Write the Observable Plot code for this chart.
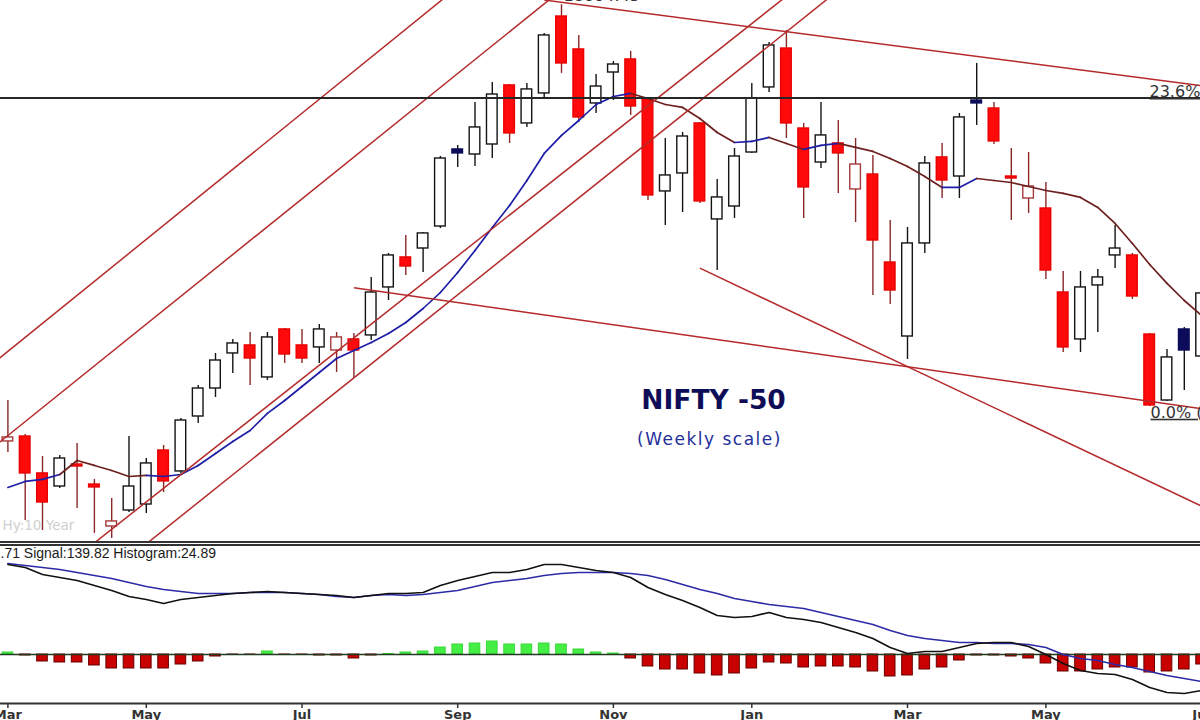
<!DOCTYPE html>
<html><head><meta charset="utf-8">
<script src="https://cdn.jsdelivr.net/npm/d3@7"></script>
<script src="https://cdn.jsdelivr.net/npm/@observablehq/plot@0.6"></script>
<style>
html,body{margin:0;padding:0;background:#fff;}
#chart{width:1200px;height:720px;overflow:hidden;position:relative;background:#fff;}
#chart svg{display:block;}
.sep{height:1px;border-top:2px solid #333;border-bottom:2px solid #333;}
</style></head><body><div id="chart"></div>
<script>
// ---- Data (weekly bars, dated by week start Sunday) ----
const weeks = ["2021-03-07","2021-03-14","2021-03-21","2021-03-28",
"2021-04-04","2021-04-11","2021-04-18","2021-04-25",
"2021-05-02","2021-05-09","2021-05-16","2021-05-23","2021-05-30",
"2021-06-06","2021-06-13","2021-06-20","2021-06-27",
"2021-07-04","2021-07-11","2021-07-18","2021-07-25",
"2021-08-01","2021-08-08","2021-08-15","2021-08-22","2021-08-29",
"2021-09-05","2021-09-12","2021-09-19","2021-09-26",
"2021-10-03","2021-10-10","2021-10-17","2021-10-24","2021-10-31",
"2021-11-07","2021-11-14","2021-11-21","2021-11-28",
"2021-12-05","2021-12-12","2021-12-19","2021-12-26",
"2022-01-02","2022-01-09","2022-01-16","2022-01-23","2022-01-30",
"2022-02-06","2022-02-13","2022-02-20","2022-02-27",
"2022-03-06","2022-03-13","2022-03-20","2022-03-27",
"2022-04-03","2022-04-10","2022-04-17","2022-04-24",
"2022-05-01","2022-05-08","2022-05-15","2022-05-22","2022-05-29",
"2022-06-05","2022-06-12","2022-06-19","2022-06-26",
"2022-07-03"];

const open = [14892,14934,14620,14509,14696,14526,14169,14305,14356,14815,
14637,15104,15342,15640,15708,15436,15844,15708,15691,15665,
15759,15793,16201,16456,16532,16719,17374,17331,17416,17918,
17595,17850,18504,18224,17765,18028,18139,17799,17017,17170,
17595,16779,16889,17348,17901,18232,17552,17263,17425,17034,
17161,16413,15784,16575,17306,17144,17790,17722,17144,16957,
16872,16158,15759,16218,16473,16473,15801,15240,15844,15614];

const high = [15240,14951,14764,14773,14875,14569,14407,14934,14747,14858,
15087,15368,15640,15759,15818,15818,15852,15844,15886,15818,
15810,16286,16490,16643,16668,17314,17408,17773,17943,17926,
17935,18360,18604.45,18343,18011,18122,18207,17816,17467,17518,
17603,17119,17382,17935,18283,18385,17595,17773,17620,17467,
17323,16770,16711,17314,17425,17680,18105,17773,17382,17348,
17093,16337,16337,16354,16728,16490,15810,15674,15861,16260];

const low = [14798,14220,14135,14492,14322,14110,14067,14288,14280,14458,
14620,15045,15266,15470,15368,15410,15555,15555,15555,15478,
15436,15750,16090,16303,16328,16702,17221,17229,17297,17425,
17561,17816,18020,17603,17680,17790,17663,16940,16728,16838,
16915,16345,16787,17340,17858,17467,16787,17212,17000,16753,
16133,16056,15589,16490,16957,16957,17578,17416,16770,16830,
16269,15648,15648,15818,16362,16099,15189,15232,15325,15580];

const close = [14926,14620,14373,14747,14679,14501,14212,14509,14705,14552,
15070,15342,15580,15725,15597,15776,15631,15597,15844,15776,
15665,16158,16473,16379,16660,17297,17340,17561,17841,17510,
17884,18343,18105,17646,17909,18096,17739,16983,17153,17484,
16932,16966,17314,17807,18258,17595,17051,17493,17340,17246,
16600,16175,16575,17255,17110,17646,17765,17442,17127,17059,
16345,15691,16201,16286,16532,16124,15198,15606,15665,16150];

// moving average and its colour per segment (u = blue, d = brown)
const ma = [14501,14552,14569,14611,14730,14688,14645,14594,14603,14594,
14611,14688,14790,14892,14985,15130,15240,15359,15478,15597,
15665,15733,15810,15903,16022,16158,16328,16515,16711,16898,
17110,17340,17493,17620,17756,17824,17850,17807,17756,17731,
17637,17518,17433,17442,17476,17425,17374,17408,17425,17391,
17357,17297,17229,17144,17051,17051,17127,17110,17093,17059,
17025,17000,16966,16881,16745,16575,16396,16235,16090,15963];
const maTrend = ("uuu" + "ddddd" + "uuuuuuuuuuuuuuuuuuuuuuuuuuuu" + "dddddd" +
  "uu" + "dd" + "uu" + "dddddd" + "uu" + "ddddddddddddd").split("");

// MACD panel
const macd = [360,348,320,308,296,276,256,232,220,204,
220,228,236,244,248,252,248,244,240,236,
228,236,244,244,248,276,296,312,328,328,
340,360,360,348,336,328,308,268,240,216,
188,156,148,152,168,148,140,128,108,88,
64,28,4,12,12,28,44,48,48,32,
0,-36,-64,-76,-80,-100,-132,-152,-156,-144];
const signal = [364,356,348,340,328,316,304,288,272,260,
252,244,244,244,248,248,248,244,240,232,
228,236,240,236,240,248,256,272,288,296,
304,316,324,328,328,328,324,316,300,280,
260,244,224,212,200,192,184,168,152,136,
120,96,76,64,56,48,48,44,44,40,
28,0,-16,-24,-40,-52,-68,-84,-96,-108];
const histogram = [8,-4,-28,-32,-32,-44,-56,-56,-56,-56,
-40,-28,-8,-2,-2,12,-2,-2,-4,-4,
-16,-4,2,8,12,28,40,44,52,40,
40,44,40,20,8,4,-16,-48,-60,-60,
-76,-84,-76,-56,-32,-36,-52,-48,-48,-52,
-68,-88,-84,-60,-52,-24,-4,-4,-8,-16,
-36,-68,-68,-60,-52,-52,-72,-68,-60,-40];

// trend lines (anchor dates / prices)
const tlFromDate  = ["2021-02-28","2021-02-28","2021-03-21","2021-04-11","2021-07-25","2021-10-10","2021-12-12"];
const tlFromPrice = [15538,14824,13681,13668,16199,18644,16365];
const tlToDate    = ["2021-10-03","2021-11-07","2022-02-20","2022-03-27","2022-07-10","2022-07-10","2022-07-10"];
const tlToPrice   = [19230,19085,19257,19550,15150,17897,14273];

// fibonacci levels
const fibLevels = [17812, 15183];
const fibLabels = ["23.6%", "0.0% ("];

// axis ticks
const tickDates  = ["2021-03-07","2021-05-02","2021-07-04","2021-09-05","2021-11-07","2022-01-02","2022-03-06","2022-05-01","2022-07-03"];
const tickLabels = ["Mar","May","Jul","Sep","Nov","Jan","Mar","May","Jul"];

const titleText = "NIFTY -50";
const subtitleText = "(Weekly scale)";
const watermark = "Hy:10 Year";
const macdLabel = ".71 Signal:139.82 Histogram:24.89";

// ---- Build ----
const parse = d3.utcParse("%Y-%m-%d");
const DAY = 864e5;
const half = 2.15 * DAY;
const xDomain = [new Date("2021-03-04T00:10:00Z"), new Date("2022-07-02T13:20:00Z")];

const candles = weeks.map((w, i) => ({
  date: parse(w), o: open[i], h: high[i], l: low[i], c: close[i],
  prev: i > 0 ? close[i - 1] : Infinity
}));
const isRed = d => d.c < d.prev;
const hollow = d => d.c >= d.o;
const bodyFill = d => hollow(d) ? "#ffffff" : (isRed(d) ? "#ff0a0a" : "#0c0c5a");
const bodyStroke = d => hollow(d) ? (isRed(d) ? "#a53a3a" : "#141414") : (isRed(d) ? "#e80000" : "#0c0c5a");
const wickStroke = d => isRed(d) ? "#8a2828" : "#141414";

const maPts = candles.map((c, i) => ({date: c.date, v: ma[i]}));
const maSegs = d3.pairs(maPts).map(([a, b], k) => ({x1: a.date, y1: a.v, x2: b.date, y2: b.v, t: maTrend[k]}));

const trend = tlFromDate.map((d, i) => ({x1: parse(d), y1: tlFromPrice[i], x2: parse(tlToDate[i]), y2: tlToPrice[i]}));

const pk = d3.maxIndex(high);
const peak = [{d: candles[pk].date, v: high[pk], t: high[pk].toFixed(2)}];

const main = Plot.plot({
  width: 1200, height: 541,
  marginTop: 0, marginBottom: 0, marginLeft: 0, marginRight: 0,
  style: {fontFamily: "DejaVu Sans", background: "#fff", overflow: "hidden"},
  x: {type: "utc", domain: xDomain, axis: null},
  y: {domain: [14041.5, 18640], axis: null},
  color: {type: "identity"},
  marks: [
    Plot.ruleX(candles, {x: "date", y1: "l", y2: "h", stroke: wickStroke, strokeWidth: 1.4}),
    Plot.rect(candles, {
      x1: d => new Date(+d.date - half), x2: d => new Date(+d.date + half),
      y1: "o", y2: "c", fill: bodyFill, stroke: bodyStroke, strokeWidth: 1.4
    }),
    Plot.link(maSegs, {x1: "x1", y1: "y1", x2: "x2", y2: "y2",
      stroke: d => d.t === "u" ? "#1d1da6" : "#6e2020", strokeWidth: 1.7, strokeLinecap: "round"}),
    Plot.link(trend, {x1: "x1", y1: "y1", x2: "x2", y2: "y2", stroke: "#b42a2a", strokeWidth: 1.5, clip: true}),
    Plot.ruleY([fibLevels[0]], {stroke: "#262626", strokeWidth: 2}),
    Plot.text([fibLabels[0]], {text: d => d, y: [fibLevels[0]], frameAnchor: "left", dx: 1149, dy: -1,
      textAnchor: "start", lineAnchor: "bottom", fontSize: 16, fill: "#333"}),
    Plot.text([fibLabels[1]], {text: d => d, y: [fibLevels[1]], frameAnchor: "left", dx: 1150, dy: 10.5,
      textAnchor: "start", lineAnchor: "bottom", fontSize: 16, fill: "#333"}),
    Plot.text(peak, {x: "d", y: "v", text: "t", dx: 2, dy: -3.5, textAnchor: "start", lineAnchor: "bottom", fontSize: 16, fill: "#333"}),
    Plot.text([titleText], {text: d => d, frameAnchor: "top-left", dx: 713, dy: 408, textAnchor: "middle",
      lineAnchor: "bottom", fontSize: 26.5, fontWeight: "bold", fill: "#0e0e58"}),
    Plot.text([subtitleText], {text: d => d, frameAnchor: "top-left", dx: 709, dy: 444, textAnchor: "middle",
      lineAnchor: "bottom", fontSize: 17, fill: "#24309a"}),
    Plot.text([watermark], {text: d => d, frameAnchor: "top-left", dx: 2, dy: 529, textAnchor: "start",
      lineAnchor: "bottom", fontSize: 13.5, fill: "#cfcfcf"})
  ]
});

const macdData = candles.map((c, i) => ({date: c.date, m: macd[i], s: signal[i], h: histogram[i]}));
const labelMap = new Map(tickDates.map((d, i) => [+parse(d), tickLabels[i]]));

const macdPlot = Plot.plot({
  width: 1200, height: 174,
  marginTop: 0, marginBottom: 17, marginLeft: 0, marginRight: 0,
  style: {fontFamily: "DejaVu Sans", background: "#fff", overflow: "hidden"},
  x: {type: "utc", domain: xDomain},
  y: {domain: [-196, 432], axis: null},
  color: {type: "identity"},
  marks: [
    Plot.rect(macdData, {
      x1: d => new Date(+d.date - half), x2: d => new Date(+d.date + half),
      y1: 0, y2: "h",
      fill: d => d.h >= 0 ? "#45ee45" : "#c80000",
      stroke: d => d.h >= 0 ? "#38d838" : "#6a0000", strokeWidth: 1
    }),
    Plot.ruleY([0], {stroke: "#1f3a1f", strokeWidth: 1.6}),
    Plot.line(macdData, {x: "date", y: "s", stroke: "#2b2ba8", strokeWidth: 1.6}),
    Plot.line(macdData, {x: "date", y: "m", stroke: "#111", strokeWidth: 1.6}),
    Plot.ruleY([-196], {stroke: "#333", strokeWidth: 2}),
    Plot.axisX({ticks: tickDates.map(parse), tickFormat: d => labelMap.get(+d), tickSize: 5, tickPadding: 1,
      fontSize: 13, fontWeight: "bold", color: "#333", strokeWidth: 1.5}),
    Plot.text([macdLabel], {text: d => d, frameAnchor: "top-left", dx: 0, dy: 11, textAnchor: "start",
      lineAnchor: "bottom", fontSize: 14, fontFamily: "Liberation Sans", fill: "#1a1a1a"})
  ]
});

const root = document.getElementById("chart");
root.appendChild(main);
const sep = document.createElement("div");
sep.className = "sep";
root.appendChild(sep);
root.appendChild(macdPlot);

// text styling tweaks
d3.select(main).selectAll("text").each(function () {
  const t = this.textContent;
  if (fibLabels.includes(t)) this.style.textDecoration = "underline";
  if (t === subtitleText) this.style.letterSpacing = "1.5px";
});
</script>
</body></html>
